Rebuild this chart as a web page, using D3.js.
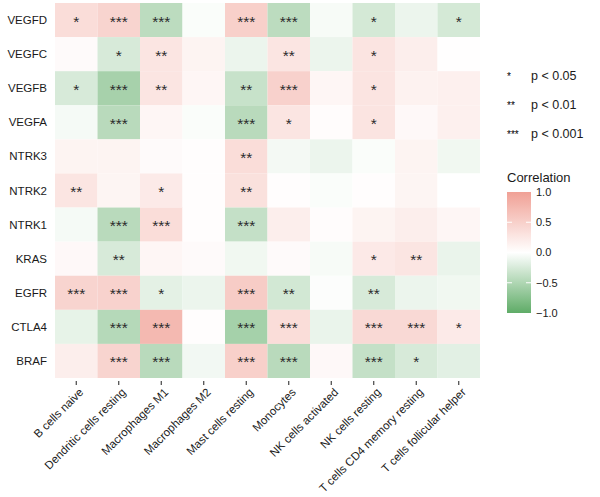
<!DOCTYPE html>
<html>
<head>
<meta charset="utf-8">
<script src="https://cdn.jsdelivr.net/npm/d3@7"></script>
<style>
  body { margin: 0; background: #fff; }
  text { font-family: "Liberation Sans", Arial, sans-serif; }
</style>
</head>
<body>
<div id="chart"></div>
<script>
var genes = ["VEGFD","VEGFC","VEGFB","VEGFA","NTRK3","NTRK2","NTRK1","KRAS","EGFR","CTLA4","BRAF"]
var cells = ["B cells naive","Dendritic cells resting","Macrophages M1","Macrophages M2","Mast cells resting",
             "Monocytes","NK cells activated","NK cells resting","T cells CD4 memory resting","T cells follicular helper"]

// correlation per gene, one value per immune cell (same order as cells)
var VEGFD = [0.36, 0.45, -0.42, -0.03, 0.50, -0.42, -0.05, -0.27, -0.12, -0.27]
var VEGFC = [0.05, -0.25, 0.27, 0.12, -0.12, 0.27, -0.12, 0.28, 0.18, 0.01]
var VEGFB = [-0.25, -0.55, 0.27, 0.09, -0.35, 0.48, 0.09, 0.28, 0.14, 0.16]
var VEGFA = [-0.06, -0.44, 0.09, -0.03, -0.44, 0.27, 0.03, 0.28, 0.07, 0.16]
var NTRK3 = [0.12, 0.12, 0.05, 0.02, 0.36, -0.07, -0.12, -0.03, 0.12, -0.09]
var NTRK2 = [0.27, 0.11, 0.22, 0.02, 0.32, 0.02, -0.03, 0.02, 0.11, 0.00]
var NTRK1 = [-0.06, -0.44, 0.36, 0.02, -0.37, 0.18, 0.03, 0.12, 0.18, 0.09]
var KRAS  = [0.07, -0.25, 0.09, 0.05, -0.09, 0.05, -0.05, 0.23, 0.27, -0.13]
var EGFR  = [0.45, 0.47, -0.17, -0.12, 0.54, -0.28, -0.02, -0.25, -0.12, -0.09]
var CTLA4 = [-0.15, -0.46, 0.74, 0.02, -0.56, 0.36, -0.13, 0.40, 0.40, 0.22]
var BRAF  = [0.18, 0.45, -0.44, -0.08, 0.50, -0.44, 0.07, -0.37, -0.25, -0.18]

// significance stars (same layout)
var VEGFD_p = ["*","***","***","","***","***","","*","","*"]
var VEGFC_p = ["","*","**","","","**","","*","",""]
var VEGFB_p = ["*","***","**","","**","***","","*","",""]
var VEGFA_p = ["","***","","","***","*","","*","",""]
var NTRK3_p = ["","","","","**","","","","",""]
var NTRK2_p = ["**","","*","","**","","","","",""]
var NTRK1_p = ["","***","***","","***","","","","",""]
var KRAS_p  = ["","**","","","","","","*","**",""]
var EGFR_p  = ["***","***","*","","***","**","","**","",""]
var CTLA4_p = ["","***","***","","***","***","","***","***","*"]
var BRAF_p  = ["","***","***","","***","***","","***","*",""]

var values = [VEGFD, VEGFC, VEGFB, VEGFA, NTRK3, NTRK2, NTRK1, KRAS, EGFR, CTLA4, BRAF]
var stars = [VEGFD_p, VEGFC_p, VEGFB_p, VEGFA_p, NTRK3_p, NTRK2_p, NTRK1_p, KRAS_p, EGFR_p, CTLA4_p, BRAF_p]

var legendStars = ["*", "**", "***"]
var legendText = ["p < 0.05", "p < 0.01", "p < 0.001"]
var colorTicks = [1.0, 0.5, 0.0, -0.5, -1.0]

var W = 600, H = 497
var margin = { top: 3, left: 55, right: 120, bottom: 119 }

var svg = d3.select("#chart").append("svg")
    .attr("width", W).attr("height", H)

var x = d3.scaleBand().domain(cells).range([margin.left, W - margin.right])
var y = d3.scaleBand().domain(genes).range([margin.top, H - margin.bottom])

var color = d3.scaleLinear()
    .domain([-1, 0, 1])
    .range(["#5fac67", "#ffffff", "#f0a095"])

var formatted = []
genes.forEach((g, i) => {
    cells.forEach((c, j) => {
        formatted.push({ gene: g, cell: c, value: values[i][j], star: stars[i][j] })
    })
})

svg.selectAll(".cell")
    .data(formatted)
    .join("rect")
    .attr("class", "cell")
    .attr("x", d => x(d.cell))
    .attr("y", d => y(d.gene))
    .attr("width", x.bandwidth())
    .attr("height", y.bandwidth())
    .attr("fill", d => color(d.value))

svg.selectAll(".star")
    .data(formatted.filter(d => d.star != ""))
    .join("text")
    .attr("class", "star")
    .attr("x", d => x(d.cell) + x.bandwidth() / 2)
    .attr("y", d => y(d.gene) + y.bandwidth() / 2 + 6.5)
    .attr("text-anchor", "middle")
    .attr("font-size", 15.5)
    .attr("fill", "#2b2b2b")
    .text(d => d.star)

// row labels
svg.selectAll(".rowLabel")
    .data(genes)
    .join("text")
    .attr("x", margin.left - 8)
    .attr("y", d => y(d) + y.bandwidth() / 2)
    .attr("dy", "0.35em")
    .attr("text-anchor", "end")
    .attr("font-size", 11.5)
    .attr("fill", "#1a1a1a")
    .text(d => d)

// bottom ticks + rotated labels
var base = H - margin.bottom
svg.selectAll(".tick")
    .data(cells)
    .join("line")
    .attr("x1", d => x(d) + x.bandwidth() / 2)
    .attr("x2", d => x(d) + x.bandwidth() / 2)
    .attr("y1", base + 3)
    .attr("y2", base + 7)
    .attr("stroke", "#333")
    .attr("stroke-width", 1.1)

svg.selectAll(".colLabel")
    .data(cells)
    .join("text")
    .attr("transform", d => "translate(" + (x(d) + x.bandwidth() / 2 + 5) + "," + (base + 12) + ") rotate(-45)")
    .attr("text-anchor", "end")
    .attr("dy", "0.35em")
    .attr("font-size", 11.5)
    .attr("fill", "#1a1a1a")
    .text(d => d)

// p-value legend
var lg = svg.append("g")
legendStars.forEach((s, i) => {
    lg.append("text").attr("x", 507).attr("y", 80 + i * 29)
        .attr("font-size", 10).attr("fill", "#000").text(s)
    lg.append("text").attr("x", 531).attr("y", 80 + i * 29)
        .attr("font-size", 12.5).attr("fill", "#1a1a1a").text(legendText[i])
})

// colour bar
svg.append("text").attr("x", 507).attr("y", 182)
    .attr("font-size", 13).attr("fill", "#1a1a1a").text("Correlation")

var cb = d3.scaleLinear().domain([1, -1]).range([192, 313])
var defs = svg.append("defs")
var grad = defs.append("linearGradient").attr("id", "cgrad")
    .attr("x1", 0).attr("x2", 0).attr("y1", 0).attr("y2", 1)
d3.range(0, 21).forEach(k => {
    var v = 1 - k / 10
    grad.append("stop").attr("offset", (k / 20 * 100) + "%").attr("stop-color", color(v))
})
svg.append("rect").attr("x", 507).attr("y", cb(1)).attr("width", 24)
    .attr("height", cb(-1) - cb(1)).attr("fill", "url(#cgrad)")

colorTicks.forEach(t => {
    if (Math.abs(t) < 1) {
        svg.append("line").attr("x1", 507).attr("x2", 512).attr("y1", cb(t)).attr("y2", cb(t))
            .attr("stroke", "#fff").attr("stroke-width", 1)
        svg.append("line").attr("x1", 526).attr("x2", 531).attr("y1", cb(t)).attr("y2", cb(t))
            .attr("stroke", "#fff").attr("stroke-width", 1)
    }
    svg.append("text").attr("x", 536).attr("y", cb(t)).attr("dy", "0.35em")
        .attr("font-size", 11).attr("fill", "#1a1a1a")
        .text(d3.format(".1f")(t).replace("-", "\u2212"))
})
</script>
</body>
</html>
